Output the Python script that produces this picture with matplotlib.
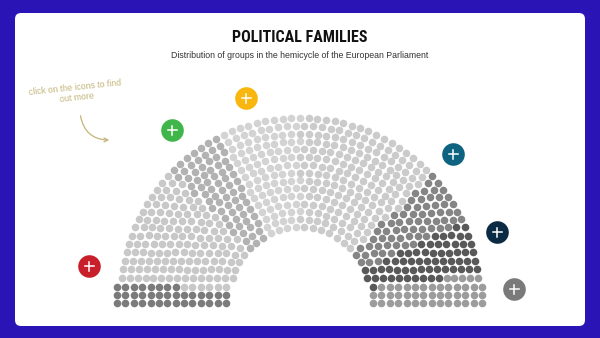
import matplotlib
matplotlib.use("Agg")
import matplotlib.pyplot as plt
import numpy as np
from matplotlib import font_manager
from matplotlib.patches import FancyBboxPatch, FancyArrowPatch

# groups from left to right of the hemicycle
groups = ["The Left", "S&D", "Greens/EFA", "Renew", "EPP", "ECR", "ID", "NI"]
seats = [36, 144, 72, 101, 177, 67, 62, 46]
seat_colors = ["#7b7b7b", "#c8c8c8", "#b2b2b2", "#d3d3d3", "#cbcbcb", "#858585", "#595959", "#9c9c9c"]

# clickable icons (only some groups have one)
icon_groups = ["The Left", "Greens/EFA", "Renew", "EPP", "ECR", "NI"]
icon_colors = ["#c8202a", "#40b54a", "#f9b60f", "#0e6480", "#0b2b45", "#7a7a7a"]
icon_xy = [(89, 266), (172, 130), (246, 98), (453, 154), (497, 232), (514, 289)]

TITLE = "POLITICAL FAMILIES"
SUBTITLE = "Distribution of groups in the hemicycle of the European Parliament"
HINT = "click on the icons to find\nout more"

# layout (pixels)
CX, CY = 300, 297
R_IN, R_OUT, N_ROWS = 70, 179, 15
Y_FLOOR = 19
BENCH_Y = [287, 295, 303]
BENCH_X = [(117, 226), (373, 482)]
BENCH_N = 14


def pick_font(candidates, weight="bold"):
    for fam in candidates:
        try:
            font_manager.findfont(font_manager.FontProperties(family=fam, weight=weight),
                                  fallback_to_default=False)
            return fam
        except ValueError:
            continue
    return None


def seat_positions(total):
    radii = np.linspace(R_IN, R_OUT, N_ROWS)
    n_arc = total - len(BENCH_Y) * BENCH_N * len(BENCH_X)
    t0 = np.arcsin(Y_FLOOR / radii)
    lengths = radii * (np.pi - 2 * t0)
    lo, hi = 4.0, 20.0
    for _ in range(60):
        sp = (lo + hi) / 2
        counts = np.round(lengths / sp).astype(int) + 1
        if counts.sum() > n_arc:
            lo = sp
        else:
            hi = sp
    counts = np.round(lengths / hi).astype(int) + 1
    counts[-1] += n_arc - counts.sum()
    xs, ys = [], []
    for r, a0, n in zip(radii, t0, counts):
        th = np.linspace(np.pi - a0, a0, n)
        xs.extend(CX + r * np.cos(th))
        ys.extend(CY - r * np.sin(th))
    for x0, x1 in BENCH_X:
        for y in BENCH_Y:
            xs.extend(np.linspace(x0, x1, BENCH_N))
            ys.extend([y] * BENCH_N)
    xs, ys = np.array(xs), np.array(ys)
    dx, dy = xs - CX, CY - ys
    ang = np.arctan2(dy, dx)
    ang = np.where((dy < 0) & (dx < 0), ang + 2 * np.pi, ang)
    order = np.argsort(-ang)
    return xs[order], ys[order]


def main():
    fig = plt.figure(figsize=(6, 3.38), dpi=100, facecolor="#2b14b6")
    ax = fig.add_axes([0, 0, 1, 1])
    ax.set_xlim(0, 600)
    ax.set_ylim(338, 0)
    ax.axis("off")

    ax.add_patch(FancyBboxPatch((15, 13), 570, 313, boxstyle="round,pad=0,rounding_size=6",
                                facecolor="white", edgecolor="none"))

    narrow = pick_font(["Roboto Condensed", "Open Sans Condensed", "Noto Sans ExtraCondensed",
                        "Liberation Sans Narrow"])
    if narrow:
        ax.text(300, 38, TITLE, ha="center", va="center", fontsize=11.5, fontweight="bold",
                family=narrow, color="#111111")
    else:
        ax.text(300, 38, TITLE, ha="center", va="center", fontsize=8.5, fontweight="bold",
                family="DejaVu Sans", color="#111111")
    ax.text(300, 56, SUBTITLE, ha="center", va="center", fontsize=6.35,
            family="Liberation Sans", color="#333333")

    xs, ys = seat_positions(sum(seats))
    start = 0
    for name, n, c in zip(groups, seats, seat_colors):
        ax.scatter(xs[start:start + n], ys[start:start + n], s=30, color=c, linewidths=0, zorder=3)
        start += n

    for (x, y), c in zip(icon_xy, icon_colors):
        ax.scatter([x], [y], s=265, color=c, linewidths=0, zorder=4)
        ax.plot([x - 4.5, x + 4.5], [y, y], color="white", lw=1.1, zorder=5)
        ax.plot([x, x], [y - 4.5, y + 4.5], color="white", lw=1.1, zorder=5)

    ax.text(76, 93, HINT, ha="center", va="center", fontsize=6.3, rotation=6,
            family="Liberation Sans", color="#c4b57a", linespacing=1.15)
    ax.add_patch(FancyArrowPatch((80, 113), (112, 140), connectionstyle="arc3,rad=0.45",
                                 arrowstyle="->", mutation_scale=7, color="#c4b57a", lw=0.9))

    fig.savefig("out.png", dpi=100, facecolor=fig.get_facecolor())
    plt.close(fig)


if __name__ == "__main__":
    main()
